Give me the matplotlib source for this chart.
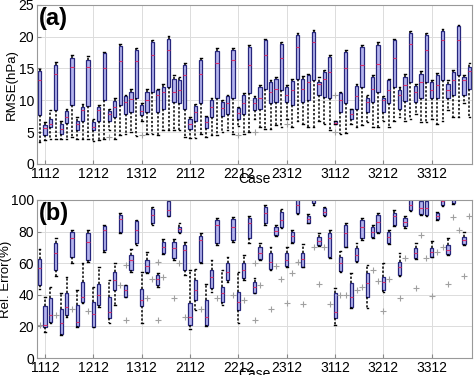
import matplotlib
matplotlib.use("Agg")
import matplotlib.pyplot as plt

plt.rcParams['font.family'] = ['Liberation Sans', 'DejaVu Sans']

# x tick labels (one every 9 cases, starting at the 2nd case)
tick_pos = [2, 11, 20, 29, 38, 47, 56, 65, 74]
tick_lab = ['1112', '1212', '1312', '2112', '2212', '2312', '3112', '3212', '3312']

# panel (a) RMSE(hPa): whisker low, q1, median, q3, whisker high
a_lo = [3.5, 3.8, 3.9, 3.9, 3.9, 3.9, 4.2, 3.9, 3.9, 3.9, 3.6, 3.7, 3.9, 5.3, 3.9, 4.5, 4.7, 5.0,
        4.4, 6.8, 4.7, 4.7, 4.5, 5.3, 5.3, 5.3, 5.3, 4.2, 4.1, 4.1, 4.7, 4.2, 4.5, 4.5, 5.0, 5.3,
        4.7, 6.0, 4.7, 5.0, 7.0, 5.8, 5.5, 5.5, 6.1, 5.8, 7.0, 5.8, 6.8, 6.3, 5.8, 5.8, 6.8, 6.3,
        5.3, 6.3, 4.7, 4.9, 6.3, 5.8, 6.1, 6.6, 5.8, 5.8, 6.8, 5.8, 6.8, 7.4, 6.8, 7.1, 7.9, 6.6,
        6.6, 7.1, 6.3, 6.8, 8.4, 7.4, 7.4, 9.5, 7.4]
a_q1 = [7.7, 4.6, 5.8, 8.5, 4.7, 6.4, 9.2, 5.4, 6.8, 9.1, 5.3, 6.8, 10.0, 6.8, 7.4, 9.2, 7.8, 8.2,
        10.3, 7.7, 8.2, 11.3, 8.2, 8.7, 12.1, 9.7, 9.5, 8.7, 5.5, 6.8, 9.5, 5.7, 7.4, 10.3, 7.6, 7.9,
        10.3, 7.0, 7.9, 11.1, 8.4, 8.7, 11.8, 9.5, 9.7, 11.6, 9.7, 9.2, 13.4, 9.7, 10.0, 13.2, 10.8, 10.5,
        10.3, 6.3, 8.2, 9.5, 7.0, 8.7, 12.1, 8.2, 9.7, 11.3, 8.2, 9.5, 12.1, 8.7, 9.9, 12.9, 9.7, 10.3,
        12.9, 10.3, 10.3, 13.2, 10.4, 10.8, 13.9, 10.9, 11.8]
a_med = [13.2, 5.7, 6.3, 14.2, 5.5, 7.3, 15.2, 6.3, 8.5, 15.2, 5.8, 8.4, 15.0, 7.8, 9.0, 16.2, 9.8, 10.2,
         16.1, 8.3, 10.0, 17.1, 10.8, 11.3, 17.9, 11.3, 11.6, 13.9, 6.3, 8.2, 14.2, 6.6, 8.9, 15.9, 8.8, 9.5,
         16.3, 8.0, 9.5, 15.5, 9.5, 10.3, 17.1, 11.3, 11.8, 16.6, 10.8, 11.6, 18.4, 11.8, 12.9, 19.1, 12.5, 13.4,
         14.5, 6.5, 10.0, 15.0, 7.8, 10.6, 15.5, 9.7, 11.8, 15.7, 10.0, 11.6, 16.6, 10.8, 12.4, 18.8, 11.3, 12.9,
         17.9, 11.6, 12.4, 19.4, 11.6, 13.2, 19.5, 13.2, 14.6]
a_q3 = [14.6, 6.1, 7.1, 15.6, 6.3, 8.3, 16.6, 6.8, 9.0, 16.4, 6.6, 9.0, 17.4, 8.3, 9.9, 18.5, 10.6, 11.3,
        17.9, 9.3, 11.3, 19.1, 11.6, 12.1, 19.7, 13.4, 13.2, 15.5, 7.1, 9.1, 16.3, 7.3, 10.0, 17.8, 9.7, 10.6,
        17.9, 8.8, 10.9, 18.4, 10.4, 12.1, 19.5, 12.9, 13.4, 18.9, 12.1, 13.0, 20.3, 13.4, 13.9, 20.8, 12.9, 14.5,
        16.8, 6.8, 11.1, 17.6, 8.7, 12.2, 18.4, 10.4, 13.6, 18.7, 10.4, 13.2, 19.4, 11.6, 13.7, 20.6, 12.2, 14.2,
        20.3, 12.9, 13.9, 20.9, 12.6, 14.5, 21.6, 13.6, 15.3]
a_hi = [14.9, 6.6, 8.4, 16.0, 6.8, 8.7, 17.1, 7.4, 9.4, 16.9, 7.1, 9.2, 17.6, 8.7, 10.3, 18.8, 10.9, 11.7,
        18.2, 9.6, 11.7, 19.5, 11.8, 12.5, 20.1, 13.9, 13.6, 15.9, 7.4, 9.4, 16.6, 7.5, 10.3, 18.2, 10.0, 10.9,
        18.2, 9.0, 11.2, 18.7, 10.6, 12.4, 19.7, 13.2, 13.7, 19.2, 12.4, 13.3, 20.5, 13.8, 14.2, 21.1, 13.7, 14.7,
        17.1, 6.8, 11.3, 17.9, 8.7, 12.5, 18.7, 10.8, 13.9, 19.1, 10.6, 13.4, 19.6, 12.1, 14.1, 20.9, 12.6, 14.6,
        20.5, 13.2, 14.3, 21.2, 13.2, 14.7, 21.8, 13.9, 15.8]
a_out = {13: [4.3], 19: [4.6], 37: [4.6], 40: [5.0], 46: [6.3], 55: [5.0, 10.9]}

# panel (b) Rel. Error(%)
b_lo = [43.5, 16.7, 21.9, 51.9, 14.6, 26.2, 60.3, 19.8, 34.6, 61.0, 19.4, 32.0, 67.3, 22.4, 33.5, 79.0,
        38.8, 54.6, 71.5, 21.9, 53.6, 84.2, 45.0, 65.8, 89.5, 62.0, 79.3, 52.5, 18.1, 30.4, 60.0, 20.3,
        42.0, 71.5, 33.5, 48.3, 73.6, 21.9, 49.4, 72.6, 40.9, 62.0, 84.2, 55.7, 77.0, 82.0, 57.4, 73.0,
        91.1, 57.4, 85.2, 97.0, 70.9, 90.0, 63.0, 20.9, 54.6, 70.0, 31.4, 61.0, 74.7, 31.4, 75.7, 79.0,
        42.0, 72.1, 83.5, 51.9, 82.5, 93.0, 62.4, 90.5, 90.0, 63.7, 87.3, 96.0, 65.2, 97.5, 102.0, 71.5, 101.0]
b_q1 = [46.2, 19.4, 23.0, 55.7, 15.2, 27.2, 64.0, 20.3, 35.7, 62.0, 19.8, 33.5, 68.4, 25.1, 43.0, 80.0,
        38.8, 55.7, 72.6, 32.9, 54.6, 85.2, 46.2, 66.2, 89.9, 63.0, 80.0, 55.7, 20.9, 36.7, 61.0, 20.9,
        44.1, 72.6, 35.7, 49.4, 74.7, 30.4, 50.4, 75.7, 41.4, 62.4, 85.2, 56.1, 78.0, 83.1, 58.2, 73.6,
        91.6, 57.8, 85.7, 98.0, 71.5, 90.5, 64.1, 25.1, 55.3, 70.5, 32.5, 61.6, 75.7, 38.8, 76.8, 80.0,
        43.0, 72.6, 84.2, 52.5, 83.5, 93.7, 63.0, 91.1, 90.5, 64.1, 87.8, 96.8, 65.8, 98.0, 104.0, 72.1, 102.0]
b_med = [56.8, 20.9, 27.2, 66.7, 21.9, 32.5, 75.7, 23.0, 38.8, 73.6, 27.8, 39.9, 81.0, 29.3, 49.4, 88.0,
         43.0, 62.0, 81.0, 36.7, 58.2, 90.5, 49.8, 70.0, 93.7, 69.4, 81.4, 68.4, 26.2, 43.0, 74.7, 26.2,
         51.0, 84.2, 41.0, 54.6, 83.0, 35.7, 55.7, 85.2, 45.0, 66.2, 91.6, 61.0, 80.5, 87.3, 62.0, 77.0,
         96.8, 62.4, 88.0, 101.0, 74.3, 92.5, 75.7, 29.3, 60.0, 79.0, 38.4, 65.2, 83.1, 47.3, 80.0, 86.3,
         48.3, 76.8, 89.5, 57.8, 86.0, 97.0, 66.2, 95.0, 94.7, 67.3, 90.0, 99.0, 68.4, 101.0, 108.0, 74.7, 105.0]
b_q3 = [62.4, 32.9, 37.8, 72.6, 30.8, 41.4, 80.0, 33.5, 48.3, 79.3, 35.7, 46.8, 83.3, 38.8, 54.6, 90.5,
        46.2, 65.0, 86.5, 43.5, 62.0, 94.0, 52.5, 73.6, 99.0, 73.6, 83.0, 71.5, 34.6, 49.4, 77.2, 36.7,
        55.7, 87.3, 45.0, 60.0, 87.8, 42.0, 60.0, 88.4, 48.3, 70.0, 95.8, 66.2, 83.0, 92.6, 66.2, 80.0,
        102.0, 66.7, 90.0, 104.0, 76.8, 94.7, 79.3, 41.4, 64.1, 84.2, 47.3, 69.4, 87.3, 53.6, 83.1, 90.5,
        51.5, 80.0, 91.6, 61.0, 88.4, 100.5, 69.4, 99.6, 99.0, 69.4, 91.6, 101.0, 71.5, 104.0, 110.0, 76.8, 108.0]
b_hi = [68.8, 38.4, 45.0, 75.7, 41.4, 51.0, 81.0, 43.0, 59.9, 81.0, 45.0, 57.4, 84.2, 49.4, 60.0, 92.0,
        46.2, 68.8, 87.3, 54.6, 67.3, 95.8, 53.6, 75.0, 100.0, 75.0, 85.2, 73.6, 55.7, 56.1, 78.9, 46.8,
        62.0, 88.4, 55.7, 64.0, 89.0, 54.6, 65.0, 89.9, 50.4, 73.0, 96.8, 70.0, 84.0, 94.0, 70.0, 81.0,
        105.0, 72.1, 91.0, 106.0, 79.3, 95.5, 81.0, 44.0, 68.0, 85.2, 53.6, 73.0, 88.4, 58.9, 84.2, 91.6,
        60.3, 81.0, 93.7, 66.2, 89.5, 102.0, 73.0, 101.0, 100.5, 74.3, 92.6, 103.0, 75.7, 106.0, 112.0, 80.0, 110.0]
b_out = {0: [21], 3: [27], 6: [31], 9: [30], 15: [46], 16: [59, 24], 20: [38], 21: [50], 22: [61, 24],
         23: [51], 25: [38], 26: [60], 27: [26], 30: [31], 33: [38], 36: [40], 38: [37], 40: [60, 24],
         41: [46], 43: [31], 44: [58], 45: [50], 46: [35], 47: [54], 48: [61], 49: [34], 51: [70],
         52: [47], 53: [70], 54: [34], 56: [40], 57: [40], 59: [43], 60: [45], 62: [56], 63: [49],
         64: [30], 65: [50], 67: [38], 68: [63], 70: [44], 71: [78], 72: [63], 73: [39], 74: [67],
         75: [70], 76: [47], 77: [89], 78: [81], 79: [52], 80: [90]}


def make_stats(lo, q1, med, q3, hi, out):
    stats = []
    for i in range(len(med)):
        stats.append({'whislo': lo[i], 'q1': q1[i], 'med': med[i], 'q3': q3[i],
                      'whishi': hi[i], 'fliers': out.get(i, [])})
    return stats


def draw_panel(ax, stats, ylim, yticks, ylabel, tag, label_x):
    ax.bxp(stats, positions=range(1, len(stats) + 1), widths=0.6, patch_artist=True,
           boxprops=dict(facecolor='#b4b4ee', edgecolor='#26267c', linewidth=0.9),
           medianprops=dict(color='#e0306a', linewidth=0.8),
           whiskerprops=dict(color='black', linewidth=1.1, linestyle=(0, (1.5, 1.2))),
           capprops=dict(color='black', linewidth=1.0),
           flierprops=dict(marker='+', markeredgecolor='#a0a0a0', markersize=4,
                           markeredgewidth=0.8, linestyle='none'))
    ax.set_xlim(0.5, len(stats) + 0.5)
    ax.set_ylim(*ylim)
    ax.set_yticks(yticks)
    ax.set_xticks(tick_pos)
    ax.set_xticklabels(tick_lab)
    ax.grid(True, color='#dcdcdc', linewidth=0.7)
    ax.set_axisbelow(True)
    ax.tick_params(direction='in', length=3, color='#888888', labelsize=10, pad=2)
    for s in ax.spines.values():
        s.set_color('#999999')
    ax.set_ylabel(ylabel, fontsize=9.5)
    ax.yaxis.set_label_coords(label_x, 0.5)
    ax.set_xlabel('Case', fontsize=10, labelpad=-6)
    ax.text(0.005, 0.985, tag, transform=ax.transAxes, fontsize=17, fontweight='bold',
            va='top', ha='left')


fig = plt.figure(figsize=(4.74, 3.75), dpi=100)
ax1 = fig.add_axes([0.078, 0.563, 0.918, 0.424])
ax2 = fig.add_axes([0.078, 0.045, 0.918, 0.422])

draw_panel(ax1, make_stats(a_lo, a_q1, a_med, a_q3, a_hi, a_out), (0, 25),
           [0, 5, 10, 15, 20, 25], 'RMSE(hPa)', '(a)', -0.045)
draw_panel(ax2, make_stats(b_lo, b_q1, b_med, b_q3, b_hi, b_out), (0, 100),
           [0, 20, 40, 60, 80, 100], 'Rel. Error(%)', '(b)', -0.058)

fig.savefig('out.png', dpi=100)
